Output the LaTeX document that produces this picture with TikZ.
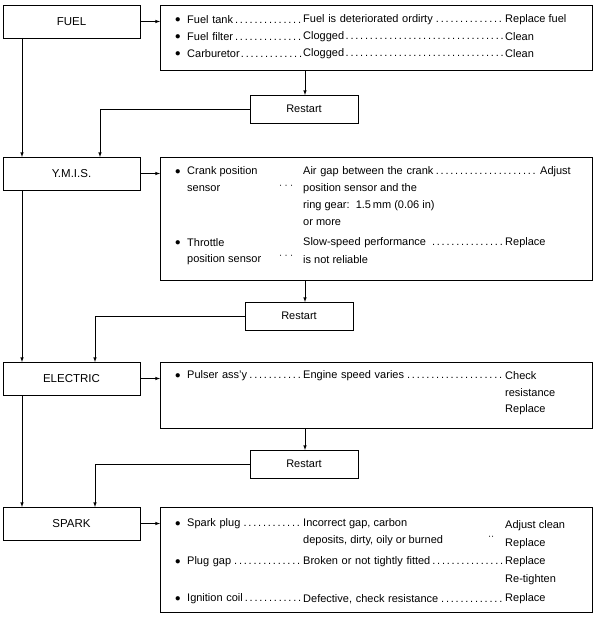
\documentclass[tikz,border=0pt]{standalone}
\usepackage{fontspec}
\setmainfont{Liberation Sans}
\usetikzlibrary{positioning}
\tikzset{
    box/.style={draw, rectangle, line width=0.6pt},
    stage/.style={box, minimum width=137pt, minimum height=33pt, font=\fontsize{11.5}{12}\selectfont},
    txt/.style={anchor=west, inner sep=0pt, font=\fontsize{11}{12}\selectfont},
    lead/.style={txt, align=left},
    link/.style={-latex, line width=0.6pt}
}
\newcommand\lrow[4]{% y, x, width, text
    \node[lead, text width=#3pt] at (#2,#1) {#4};}
\begin{document}
\begin{tikzpicture}[x=1pt,y=-1pt]
    \useasboundingbox (0,0) rectangle (600,618);
    % stage boxes
    \foreach \N/\T/\Y in {fuel/FUEL/5,ymis/Y.M.I.S./157,elec/ELECTRIC/362,spark/SPARK/507}
    {\node[stage] (\N) at (71.5,\Y+16.5) {\T};
    \coordinate (\N t) at (22,\Y); \coordinate (\N b) at (22,\Y+33);}
    % detail boxes
    \foreach \N/\A/\B in {da/5/70,db/157/280,dc/362/428,dd/507/612}
    {\draw[box] (160,\A) rectangle (592,\B);
    \coordinate (\N l) at (160,\A+16.5); \coordinate (\N b) at (305,\B);}
    % restart boxes
    \foreach \N/\X/\Y in {ra/250/95,rb/245/302,rc/250/450}
    {\node[box, minimum width=108pt, minimum height=28pt, font=\fontsize{11}{12}\selectfont] (\N) at (\X+54,\Y+14) {Restart};
    \coordinate (\N t) at (305,\Y);}
    % connectors
    \draw[link] (fuel.east) -- (dal);
    \draw[link] (ymis.east) -- (dbl);
    \draw[link] (elec.east) -- (dcl);
    \draw[link] (spark.east) -- (ddl);
    \draw[link] (fuelb) -- (ymist);
    \draw[link] (ymisb) -- (elect);
    \draw[link] (elecb) -- (sparkt);
    \draw[link] (dab) -- (rat);
    \draw[link] (dbb) -- (rbt);
    \draw[link] (dcb) -- (rct);
    \draw[link] (ra.west) -| (100,157);
    \draw[link] (rb.west) -| (95,362);
    \draw[link] (rc.west) -| (95,507);
    % fuel details
    \foreach \Y/\A/\B/\C in {20/Fuel tank/Fuel is deteriorated ordirty/Replace fuel,37/Fuel filter/Clogged/Clean,54/Carburetor/Clogged/Clean}
    {\node[txt] at (175,\Y) {$\bullet$};
    \lrow{\Y}{187}{116}{\A\dotfill}
    \lrow{\Y}{303}{202}{\B\dotfill}
    \node[txt] at (505,\Y) {\C};}
    % Y.M.I.S. details
    \node[txt] at (175,172) {$\bullet$};
    \node[txt] at (187,172) {Crank position};
    \node[txt] at (187,189) {sensor};
    \node[txt] at (279,186) {$\cdot\cdot\cdot$};
    \lrow{172}{303}{235}{Air gap between the crank\dotfill}
    \node[txt] at (540,172) {Adjust};
    \node[txt] at (303,189) {position sensor and the};
    \node[txt] at (303,206) {ring gear:\ \ 1.5\,mm (0.06 in)};
    \node[txt] at (303,223) {or more};
    \node[txt] at (175,243) {$\bullet$};
    \node[txt] at (187,243) {Throttle};
    \node[txt] at (187,260) {position sensor};
    \node[txt] at (279,256) {$\cdot\cdot\cdot$};
    \lrow{243}{303}{202}{Slow-speed performance\ \dotfill}
    \node[txt] at (505,243) {Replace};
    \node[txt] at (303,260) {is not reliable};
    % electric details
    \node[txt] at (175,376) {$\bullet$};
    \lrow{376}{187}{116}{Pulser ass'y\dotfill}
    \lrow{376}{303}{202}{Engine speed varies\dotfill}
    \node[txt] at (505,376) {Check};
    \node[txt] at (505,393) {resistance};
    \node[txt] at (505,410) {Replace};
    % spark details
    \node[txt] at (175,524) {$\bullet$};
    \lrow{524}{187}{116}{Spark plug\dotfill}
    \node[txt] at (303,524) {Incorrect gap, carbon};
    \node[txt] at (303,541) {deposits, dirty, oily or burned};
    \node[txt] at (488,537) {$\cdot\cdot$};
    \node[txt] at (505,526) {Adjust clean};
    \node[txt] at (505,544) {Replace};
    \node[txt] at (175,562) {$\bullet$};
    \lrow{562}{187}{116}{Plug gap\dotfill}
    \lrow{562}{303}{202}{Broken or not tightly fitted\dotfill}
    \node[txt] at (505,562) {Replace};
    \node[txt] at (505,580) {Re-tighten};
    \node[txt] at (175,599) {$\bullet$};
    \lrow{599}{187}{116}{Ignition coil\dotfill}
    \lrow{599}{303}{202}{Defective, check resistance\dotfill}
    \node[txt] at (505,599) {Replace};
\end{tikzpicture}
\end{document}
